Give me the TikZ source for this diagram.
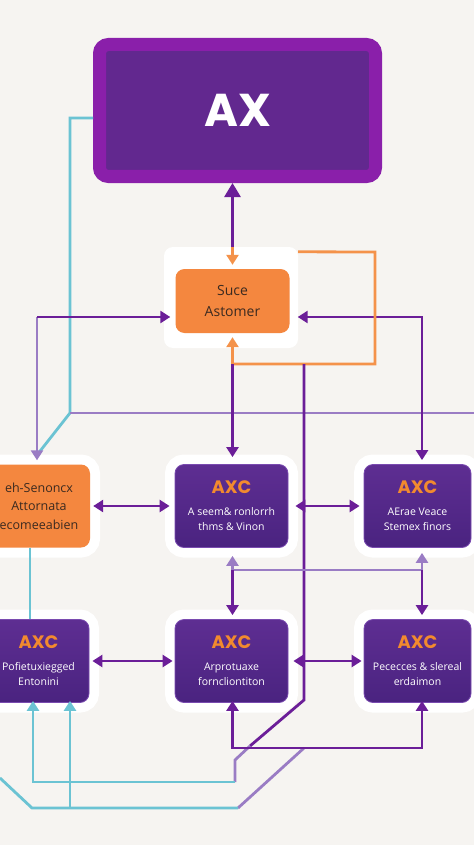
\documentclass[tikz,border=0pt]{standalone}
\usepackage{fontspec}
\setmainfont{Open Sans}
\newfontfamily\headfont{Poppins}
\usetikzlibrary{arrows.meta}

\definecolor{bgcol}{HTML}{F6F4F1}
\definecolor{axouter}{HTML}{8A1FAA}
\definecolor{axinner}{HTML}{62288F}
\definecolor{boxtop}{HTML}{5E2E92}
\definecolor{boxbot}{HTML}{4A2380}
\definecolor{boxrim}{HTML}{7A4BB0}
\definecolor{orangebox}{HTML}{F4873F}
\definecolor{axcorange}{HTML}{F28A2E}
\definecolor{linepurple}{HTML}{6B1E98}
\definecolor{linelilac}{HTML}{9A7CC4}
\definecolor{linecyan}{HTML}{6BC3D3}
\definecolor{lineorange}{HTML}{F4924A}
\definecolor{browntext}{HTML}{3B2A20}

\newcommand\axctext[2]{{\headfont\bfseries\color{axcorange}\fontsize{18}{18}\selectfont AXC}\\[7pt]#1\\#2}

\begin{document}
\begin{tikzpicture}[x=1pt,y=-1pt,>={Triangle[width=12pt,length=10pt]},line join=miter,
    conn/.style={line width=2.8pt},
    purpleline/.style={conn,draw=linepurple},
    lilacline/.style={conn,draw=linelilac},
    cyanline/.style={conn,draw=linecyan},
    orangeline/.style={conn,draw=lineorange},
    backdrop/.style={fill=white,rounded corners=9pt,inner sep=0pt},
    axbox/.style={fill=axinner,draw=axouter,line width=13pt,rounded corners=9pt,
      minimum width=276pt,minimum height=132pt,text=white,
      font=\headfont\bfseries\fontsize{46}{46}\selectfont},
    orangebox/.style={fill=orangebox,rounded corners=9pt,minimum width=114pt,
      minimum height=64pt,inner sep=0pt,text=browntext,align=center,
      font=\fontsize{14}{21}\selectfont},
    purplebox/.style={rounded corners=9pt,top color=boxtop,bottom color=boxbot,
      draw=boxrim,line width=0.8pt,minimum width=113pt,minimum height=83pt,
      inner sep=0pt,text=white,align=center,font=\fontsize{10.5}{15}\selectfont,
      preaction={draw=white,line width=20pt}}]
  \useasboundingbox (0,0) rectangle (474,845);
  \clip (0,0) rectangle (474,845);
  \fill[bgcol] (0,0) rectangle (474,845);

  \node[axbox] (ax) at (237.5,110.5) {AX};
  \node[backdrop,minimum width=134pt,minimum height=101pt] (sucebg) at (231,297.5) {};
  \node[orangebox] (suce) at (232.5,301) {Suce\\Astomer};

  \node[orangebox,minimum width=102pt,minimum height=83pt,font=\fontsize{12.5}{18.5}\selectfont,
    preaction={draw=white,line width=20pt}] (sensor) at (39,506) {eh-Senoncx\\Attornata\\ecomeeabien};
  \node[purplebox] (seem) at (231.5,506) {\axctext{A seem\& ronlorrh}{thms \& Vinon}};
  \node[purplebox,minimum width=107pt] (veace) at (417.5,506) {\axctext{AErae Veace}{Stemex finors}};

  \node[purplebox,minimum width=101pt] (pofiet) at (38.5,661) {\axctext{Pofietuxiegged}{Entonini}};
  \node[purplebox] (arprot) at (231.5,661) {\axctext{Arprotuaxe}{forncliontiton}};
  \node[purplebox,minimum width=107pt] (pecec) at (417.5,661) {\axctext{Pececces \& slereal}{erdaimon}};

  \coordinate (lfeed) at (37,317);
  \coordinate (rfeed) at (422,317);
  \coordinate (feedtip) at (37,455);
  \coordinate (cyanturn) at (70,118);
  \coordinate (cyanknee) at (70,413);
  \coordinate (railend) at (474,413);
  \coordinate (oloopa) at (375,252);
  \coordinate (oloopb) at (375,364);
  \coordinate (oloopc) at (232.5,364);
  \coordinate (trunk) at (304,364);
  \coordinate (trunkbend) at (304,700);
  \coordinate (trunkdiag) at (250,746);
  \coordinate (lilacbend) at (235,760);
  \coordinate (cyanbus) at (235,782);
  \coordinate (cyanleft) at (33,782);
  \coordinate (lilacstart) at (304,748);
  \coordinate (lowcyan) at (238,808);
  \coordinate (lowleft) at (32,808);
  \coordinate (lowbranch) at (70,808);
  \coordinate (lowedge) at (0,778);
  \coordinate (midbus) at (232.5,570);
  \coordinate (rightbus) at (422,570);
  \coordinate (lowbusl) at (232.5,748);
  \coordinate (lowbusr) at (422,748);

  \draw[cyanline] (ax.west |- cyanturn) -- (cyanturn) -- (cyanknee) -- (feedtip);
  \draw[lilacline] (cyanknee) -- (railend);
  \draw[lilacline,->,shorten >=4pt] (lfeed) -- (sensor.north -| lfeed);
  \draw[purpleline,->,shorten >=5pt] (lfeed) -- (lfeed -| suce.west);
  \draw[purpleline,<->,shorten <=8pt,shorten >=4pt] (rfeed -| suce.east) -- (rfeed) -- (veace.north -| rfeed);

  \draw[purpleline,{Triangle[width=16pt,length=14pt]}-] (ax.south -| suce) -- (sucebg.north -| suce);
  \draw[orangeline,->,shorten >=4pt] (sucebg.north -| suce) -- (suce.north);
  \draw[orangeline,->,shorten >=4pt] ([yshift=-5pt]sucebg.north east) -- (oloopa) -- (oloopb) -- (oloopc) -- (suce.south);

  \draw[purpleline,->,shorten >=7pt] (oloopc) -- (seem.north -| oloopc);
  \draw[purpleline] (trunk) -- (trunkbend) -- (trunkdiag);
  \draw[lilacline] (trunkdiag) -- (lilacbend) -- (cyanbus);
  \draw[cyanline,->,shorten >=-2pt] (cyanbus) -- (cyanleft) -- (pofiet.south -| cyanleft);
  \draw[lilacline] (lilacstart) -- (lowcyan);
  \draw[cyanline] (lowcyan) -- (lowleft) -- (lowedge);
  \draw[cyanline,->,shorten >=-2pt] (lowbranch) -- (pofiet.south -| lowbranch);

  \draw[cyanline] (sensor.south -| 30,0) -- (pofiet.north -| 30,0);

  \draw[purpleline,<->,shorten <=3pt,shorten >=5pt] (sensor) -- (seem);
  \draw[purpleline,<->,shorten <=7pt,shorten >=4pt] (seem) -- (veace);
  \draw[purpleline,<->,shorten <=3pt,shorten >=2pt] (pofiet) -- (arprot);
  \draw[purpleline,<->,shorten <=5pt,shorten >=2pt] (arprot) -- (pecec);

  \draw[lilacline,<->,shorten <=8pt,shorten >=5pt] (seem.south -| midbus) -- (midbus) -- (rightbus) -- (veace.south -| rightbus);
  \draw[purpleline,->,shorten >=4pt] (midbus) -- (arprot.north -| midbus);
  \draw[purpleline,->,shorten >=4pt] (rightbus) -- (pecec.north -| rightbus);
  \draw[purpleline,<->,shorten <=-2pt,shorten >=-2pt] (arprot.south -| lowbusl) -- (lowbusl) -- (lowbusr) -- (pecec.south -| lowbusr);
\end{tikzpicture}
\end{document}
